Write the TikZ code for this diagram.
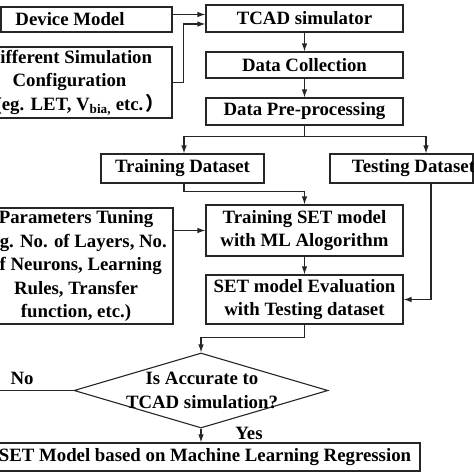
\documentclass[tikz,border=0pt]{standalone}
\usepackage{fontspec}
\setmainfont{Liberation Serif}
\newfontfamily\cjk{Noto Sans CJK SC}
\usetikzlibrary{arrows.meta,shapes.geometric}

\begin{document}
\begin{tikzpicture}[x=1pt,y=-1pt,
  every node/.style={font=\fontsize{18.8}{23.5}\selectfont\bfseries},
  box/.style={draw=black!85, line width=1.1pt, inner sep=0pt, align=center},
  decision/.style={diamond, draw=black!85, line width=1.1pt, inner sep=0pt},
  arr/.style={draw=black!85, line width=1.1pt, -{Latex[length=8pt,width=5.5pt]}},
  plain/.style={draw=black!85, line width=1.1pt}]
\useasboundingbox (0,0) rectangle (474,474);
\clip (0,0) rectangle (474,474);
\fill[white] (0,0) rectangle (474,474);

\node[box, minimum width=171, minimum height=25, label={[xshift=-16.5pt]center:Device Model}] (dev) at (86.5,19.5) {};
\node[box, minimum width=205, minimum height=71] (conf) at (69.5,82.5) {Different Simulation\\Configuration\\(eg. LET, V\textsubscript{bia,} etc.\hspace{2pt}{\cjk ）}\hspace{-20.8pt}\mbox{}};

\node[box, minimum width=197, minimum height=27] (tcad) at (304.5,18.5) {TCAD simulator};
\node[box, minimum width=197, minimum height=26] (coll) at (304.5,65) {Data Collection};
\node[box, minimum width=197, minimum height=27] (pre) at (304.5,111.5) {Data Pre-processing};

\node[box, minimum width=163, minimum height=29] (train) at (182.5,168.5) {Training Dataset};
\node[box, minimum width=143, minimum height=29, label={[xshift=12pt]center:Testing Dataset}] (test) at (401.5,168.5) {};

\node[box, minimum width=194, minimum height=116] (param) at (76,266) {Parameters Tuning\\(eg. No. of Layers, No.\\of Neurons, Learning\\Rules, Transfer\\function, etc.)};
\node[box, minimum width=197, minimum height=51] (trainml) at (304.5,230.5) {Training SET model\\with ML Alogorithm};
\node[box, minimum width=197, minimum height=49] (eval) at (304.5,299.5) {SET model Evaluation\\with Testing dataset};

\node[decision, minimum width=254, minimum height=75] (acc) at (201,390.5) {};
\node[align=center] (acctxt) at (202,390.5) {Is Accurate to\\TCAD simulation?};
\node[box, minimum width=430, minimum height=28] (final) at (205,457) {SET Model based on Machine Learning Regression};

\node (no) at (22,378) {No};
\node (yes) at (249,433) {Yes};
\coordinate (noend) at (-20,390.5);

\draw[arr] ([yshift=5pt]dev.east) -- ([yshift=5pt]dev.east -| tcad.west);
\draw[arr] (conf.east) -- ++(11,0) |- ([yshift=-5.5pt]tcad.west);
\draw[arr] (tcad) -- (coll);
\draw[arr] (coll) -- (pre);
\draw[arr] (pre.south) -- ++(0,11) -| ([xshift=1.5pt]train.north);
\draw[arr] (pre.south) -- ++(0,11) -| ([xshift=24.5pt]test.north);
\draw[arr] ([xshift=1.5pt]train.south) -- ++(0,8) -| (trainml.north);
\draw[arr] (param.east |- trainml.west) -- (trainml.west);
\draw[arr] (trainml) -- (eval);
\draw[arr] ([xshift=29.5pt]test.south) |- (eval.east);
\draw[arr] (eval.south) -- ++(0,13) -| (acc.north);
\draw[plain] (acc.west) -- (noend);
\draw[arr] (acc.south) -- (acc.south |- final.north);

\end{tikzpicture}
\end{document}
